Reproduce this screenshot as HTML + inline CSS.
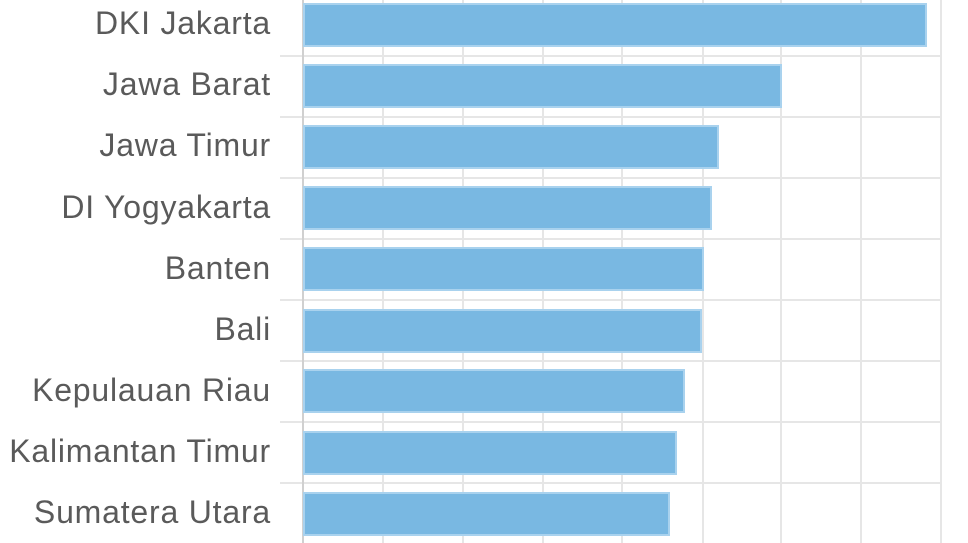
<!DOCTYPE html>
<html><head><meta charset="utf-8"><style>
html,body{margin:0;padding:0;background:#fff;}
svg{display:block;}
text{font-family:"Liberation Sans",sans-serif;font-size:32px;fill:#5a5a5a;text-anchor:end;letter-spacing:0.8px;}
</style></head><body>
<svg width="968" height="543" viewBox="0 0 968 543">
<g stroke="#e6e6e6" stroke-width="2">
<line x1="383" y1="0" x2="383" y2="543"/>
<line x1="463" y1="0" x2="463" y2="543"/>
<line x1="543" y1="0" x2="543" y2="543"/>
<line x1="622" y1="0" x2="622" y2="543"/>
<line x1="703" y1="0" x2="703" y2="543"/>
<line x1="781" y1="0" x2="781" y2="543"/>
<line x1="861" y1="0" x2="861" y2="543"/>
<line x1="941" y1="0" x2="941" y2="543"/>
<line x1="280" y1="56" x2="941" y2="56"/>
<line x1="280" y1="117" x2="941" y2="117"/>
<line x1="280" y1="178" x2="941" y2="178"/>
<line x1="280" y1="239" x2="941" y2="239"/>
<line x1="280" y1="300" x2="941" y2="300"/>
<line x1="280" y1="361" x2="941" y2="361"/>
<line x1="280" y1="422" x2="941" y2="422"/>
<line x1="280" y1="483" x2="941" y2="483"/>
</g>
<line x1="303" y1="0" x2="303" y2="543" stroke="#d0d0d0" stroke-width="2"/>
<g fill="#79b8e2" stroke="#a9d2ee" stroke-width="2">
<rect x="304" y="4" width="622" height="42"/>
<rect x="304" y="65" width="477" height="42"/>
<rect x="304" y="126" width="414" height="42"/>
<rect x="304" y="187" width="407" height="42"/>
<rect x="304" y="248" width="399" height="42"/>
<rect x="304" y="310" width="397" height="42"/>
<rect x="304" y="370" width="380" height="42"/>
<rect x="304" y="432" width="372" height="42"/>
<rect x="304" y="493" width="365" height="42"/>
</g>
<text x="271" y="34">DKI Jakarta</text>
<text x="271" y="95">Jawa Barat</text>
<text x="271" y="156">Jawa Timur</text>
<text x="271" y="218">DI Yogyakarta</text>
<text x="271" y="279">Banten</text>
<text x="271" y="340">Bali</text>
<text x="271" y="401">Kepulauan Riau</text>
<text x="271" y="462">Kalimantan Timur</text>
<text x="271" y="523">Sumatera Utara</text>
</svg>
</body></html>
